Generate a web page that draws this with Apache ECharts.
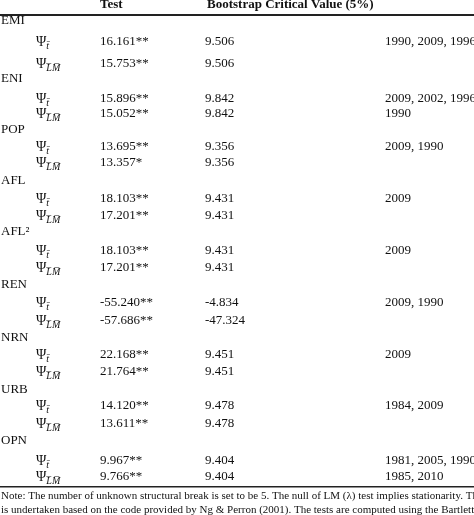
<!DOCTYPE html>
<html><head><meta charset="utf-8">
<script src="https://cdn.jsdelivr.net/npm/echarts@6/dist/echarts.min.js"></script>
<style>html,body{margin:0;background:#fff}#main{width:474px;height:515px}</style>
</head><body><div id="main"></div>
<script>
const variables = ['EMI', 'ENI', 'POP', 'AFL', 'AFL²', 'REN', 'NRN', 'URB', 'OPN']
const testT = ['16.161**', '15.896**', '13.695**', '18.103**', '18.103**', '-55.240**', '22.168**', '14.120**', '9.967**']
const testLM = ['15.753**', '15.052**', '13.357*', '17.201**', '17.201**', '-57.686**', '21.764**', '13.611**', '9.766**']
const critT = ['9.506', '9.842', '9.356', '9.431', '9.431', '-4.834', '9.451', '9.478', '9.404']
const critLM = ['9.506', '9.842', '9.356', '9.431', '9.431', '-47.324', '9.451', '9.478', '9.404']
const breaksT = ['1990, 2009, 1996', '2009, 2002, 1996,', '2009, 1990', '2009', '2009', '2009, 1990', '2009', '1984, 2009', '1981, 2005, 1990,']
const breaksLM = ['', '1990', '', '', '', '', '', '', '1985, 2010']
const headers = ['Test', 'Bootstrap Critical Value (5%)']
const notes = [
  'Note: The number of unknown structural break is set to be 5. The null of LM (λ) test implies stationarity. The Gauss proc',
  'is undertaken based on the code provided by Ng & Perron (2001). The tests are computed using the Bartlett kernel and a'
]

// layout: top of each group, and offsets of the two Ψ rows
const groupY = [21, 79, 130, 181, 232, 285, 338, 390, 441]
const offT = [21, 20, 17, 18, 19, 18, 17, 16, 20]
const offLM = [43, 35, 33, 35, 36, 36, 34, 34, 36]
const font = '"Liberation Serif", "DejaVu Serif", serif'

const els = []
function txt(x, y, s, extra) {
  els.push({type: 'text', x, y, style: Object.assign({text: s, font: '13px ' + font, fill: '#111', verticalAlign: 'middle'}, extra || {})})
}
const rich = {
  psi: {fontFamily: font, fontSize: 14, fill: '#111'},
  sub: {fontFamily: font, fontSize: 10, fontStyle: 'italic', fill: '#111', verticalAlign: 'bottom', padding: [8, 0, 0, 0]}
}
function psi(y, sub) {
  els.push({type: 'text', x: 36, y, style: {text: '{psi|Ψ}{sub|' + sub + '}', rich, verticalAlign: 'middle'}})
}
txt(100, 5, headers[0], {font: 'bold 13px ' + font})
txt(207, 5, headers[1], {font: 'bold 13px ' + font})
els.push({type: 'rect', shape: {x: 0, y: 14, width: 474, height: 2}, style: {fill: '#222'}})
variables.forEach((v, i) => {
  const y0 = groupY[i], yt = y0 + offT[i], yl = y0 + offLM[i]
  txt(1, y0, v)
  psi(yt, 't\u0304')
  txt(100, yt, testT[i]); txt(205, yt, critT[i]); txt(385, yt, breaksT[i])
  psi(yl, 'L\u0305M\u0305')
  txt(100, yl, testLM[i]); txt(205, yl, critLM[i]); txt(385, yl, breaksLM[i])
})
els.push({type: 'rect', shape: {x: 0, y: 486, width: 474, height: 1.5}, style: {fill: '#222'}})
notes.forEach((n, i) => txt(1, 496 + i * 14, n, {font: '11px ' + font}))

const myChart = echarts.init(document.getElementById('main'))
myChart.setOption({animation: false, graphic: {elements: els}})
</script></body></html>
